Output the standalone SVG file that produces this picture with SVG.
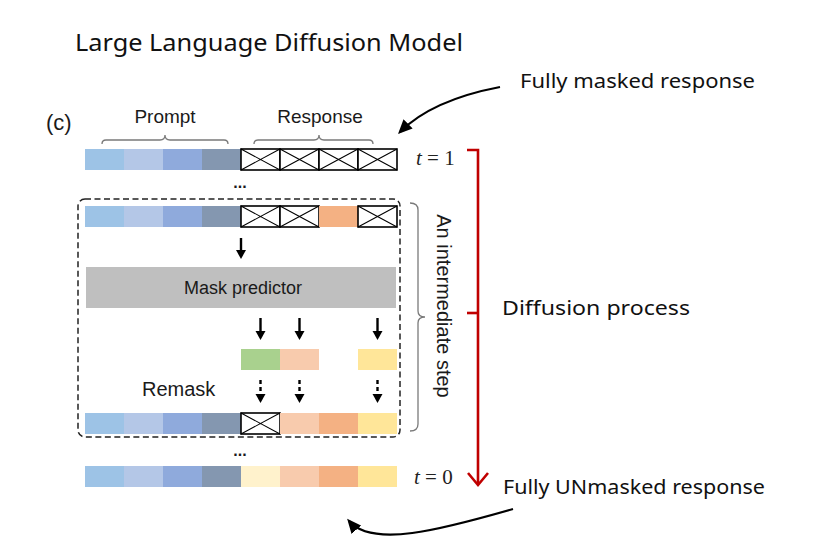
<svg xmlns="http://www.w3.org/2000/svg" xmlns:xlink="http://www.w3.org/1999/xlink" width="835" height="560" viewBox="0 0 835 560">
<style>
.lbl{font-family:"Liberation Sans",Arial,sans-serif;fill:#1a1a1a}
.hand{font-family:"Comic Sans MS","Noto Sans","DejaVu Sans",sans-serif;fill:#111}
.math{font-family:"Liberation Serif","Times New Roman",serif;fill:#222;font-size:21px}
.brace{fill:none;stroke:#7a7a7a;stroke-width:1.3}
.b1{fill:#9DC3E6}.b2{fill:#B4C7E7}.b3{fill:#8FAADC}.b4{fill:#8497B0}
.y1{fill:#FFF2CC}.pe{fill:#F8CBAD}.or{fill:#F4B183}.ye{fill:#FFE699}.gr{fill:#A9D18E}
.arr{stroke:#000;stroke-width:2.4;fill:none}
.darr{stroke:#000;stroke-width:2.4;fill:none;stroke-dasharray:4 3}
.head{fill:#000}
.red{stroke:#C00000;stroke-width:2.6;fill:none}
.curve{stroke:#000;stroke-width:2.2;fill:none}
</style>
<defs>
<g id="mk"><rect x="0" y="0" width="39" height="21" fill="#fff" stroke="#000" stroke-width="1.6"/><path d="M0,0 L39,21 M0,21 L39,0" stroke="#000" stroke-width="1.1" fill="none"/></g>
<g id="prompt">
<rect x="85" y="0" width="39" height="21" class="b1"/>
<rect x="124" y="0" width="39" height="21" class="b2"/>
<rect x="163" y="0" width="39" height="21" class="b3"/>
<rect x="202" y="0" width="39" height="21" class="b4"/>
</g>
<path id="dh" d="M-5,0 L5,0 L0,9 z"/>
<marker id="ah" viewBox="0 0 10 10" refX="8" refY="5" markerWidth="6.5" markerHeight="6.5" orient="auto" markerUnits="strokeWidth"><path d="M0,0.5 L10,5 L0,9.5 z" fill="#000"/></marker>
</defs>

<g id="title"><text class="hand" x="75" y="51" font-size="24" textLength="388" lengthAdjust="spacingAndGlyphs">Large Language Diffusion Model</text></g>

<g id="label-c"><text class="lbl" x="46" y="130" font-size="22">(c)</text></g>

<g id="prompt-label">
<text class="lbl" x="165" y="123" font-size="19" text-anchor="middle">Prompt</text>
<path class="brace" d="M102,144 Q102,140 106,140 L160,140 Q165,140 165,135 Q165,140 170,140 L224,140 Q228,140 228,144"/>
</g>
<g id="response-label">
<text class="lbl" x="320" y="123" font-size="19" text-anchor="middle">Response</text>
<path class="brace" d="M254,144 Q254,140 258,140 L314,140 Q319,140 319,135 Q319,140 324,140 L369,140 Q373,140 373,144"/>
</g>

<g id="row-t1">
<use xlink:href="#prompt" y="149"/>
<use xlink:href="#mk" x="241" y="149"/>
<use xlink:href="#mk" x="280" y="149"/>
<use xlink:href="#mk" x="319" y="149"/>
<use xlink:href="#mk" x="358" y="149"/>
<text class="math" x="416" y="165"><tspan font-style="italic">t</tspan> = 1</text>
</g>

<g id="dots-top"><text class="lbl" x="240" y="188" font-size="16" font-weight="bold" text-anchor="middle">...</text></g>

<g id="intermediate-step">
<rect x="78" y="199" width="322" height="238" rx="7" fill="none" stroke="#222" stroke-width="1.5" stroke-dasharray="6 3.5"/>
<g id="row-mid">
<use xlink:href="#prompt" y="206"/>
<use xlink:href="#mk" x="241" y="206"/>
<use xlink:href="#mk" x="280" y="206"/>
<rect x="319" y="206" width="39" height="21" class="or"/>
<use xlink:href="#mk" x="358" y="206"/>
</g>
<g id="mask-predictor">
<rect x="86" y="267" width="310" height="41" fill="#BFBFBF"/>
<text class="lbl" x="243" y="294" font-size="18" text-anchor="middle">Mask predictor</text>
</g>
<g id="predicted">
<rect x="241" y="349" width="39" height="21" class="gr"/>
<rect x="280" y="349" width="39" height="21" class="pe"/>
<rect x="358" y="349" width="39" height="21" class="ye"/>
</g>
<g id="remask-label"><text class="lbl" x="142" y="396" font-size="20">Remask</text></g>
<g id="row-remasked">
<use xlink:href="#prompt" y="413"/>
<use xlink:href="#mk" x="241" y="413"/>
<rect x="280" y="413" width="39" height="21" class="pe"/>
<rect x="319" y="413" width="39" height="21" class="or"/>
<rect x="358" y="413" width="39" height="21" class="ye"/>
</g>
<path class="brace" d="M410,203 Q418,203 418,210 L418,311 Q418,317 425,317 Q418,317 418,323 L418,424 Q418,431 410,431"/>
<text class="lbl" transform="translate(437,306) rotate(90)" font-size="20" text-anchor="middle">An intermediate step</text>
</g>

<g id="dots-bottom"><text class="lbl" x="240" y="456" font-size="16" font-weight="bold" text-anchor="middle">...</text></g>

<g id="row-t0">
<use xlink:href="#prompt" y="466"/>
<rect x="241" y="466" width="39" height="21" class="y1"/>
<rect x="280" y="466" width="39" height="21" class="pe"/>
<rect x="319" y="466" width="39" height="21" class="or"/>
<rect x="358" y="466" width="39" height="21" class="ye"/>
<text class="math" x="414" y="484"><tspan font-style="italic">t</tspan> = 0</text>
</g>

<g id="diffusion-process">
<path class="red" d="M467,150 H478 V484"/>
<path class="red" d="M467,313 H478"/>
<path class="red" d="M468,473 L478,485 L488,473"/>
<text class="hand" x="502" y="315" font-size="19" textLength="188" lengthAdjust="spacingAndGlyphs">Diffusion process</text>
</g>

<g id="fully-masked-note"><text class="hand" x="520" y="88" font-size="19" textLength="235" lengthAdjust="spacingAndGlyphs">Fully masked response</text></g>
<g id="fully-unmasked-note"><text class="hand" x="503" y="494" font-size="19" textLength="262" lengthAdjust="spacingAndGlyphs">Fully UNmasked response</text></g>

<g id="connectors">
<path class="arr" d="M241,238 V252"/><use xlink:href="#dh" x="241" y="250" class="head"/>
<path class="arr" d="M260.5,318 V332"/><use xlink:href="#dh" x="260.5" y="331" class="head"/>
<path class="arr" d="M299.5,318 V332"/><use xlink:href="#dh" x="299.5" y="331" class="head"/>
<path class="arr" d="M377.5,318 V332"/><use xlink:href="#dh" x="377.5" y="331" class="head"/>
<path class="darr" d="M260.5,380 V395"/><use xlink:href="#dh" x="260.5" y="394" class="head"/>
<path class="darr" d="M299.5,380 V395"/><use xlink:href="#dh" x="299.5" y="394" class="head"/>
<path class="darr" d="M377.5,380 V395"/><use xlink:href="#dh" x="377.5" y="394" class="head"/>
<path class="curve" d="M500,87 Q432,100 400,132" marker-end="url(#ah)"/>
<path class="curve" d="M513,509 C440,530 372,548 349,521" marker-end="url(#ah)"/>
</g>
</svg>
